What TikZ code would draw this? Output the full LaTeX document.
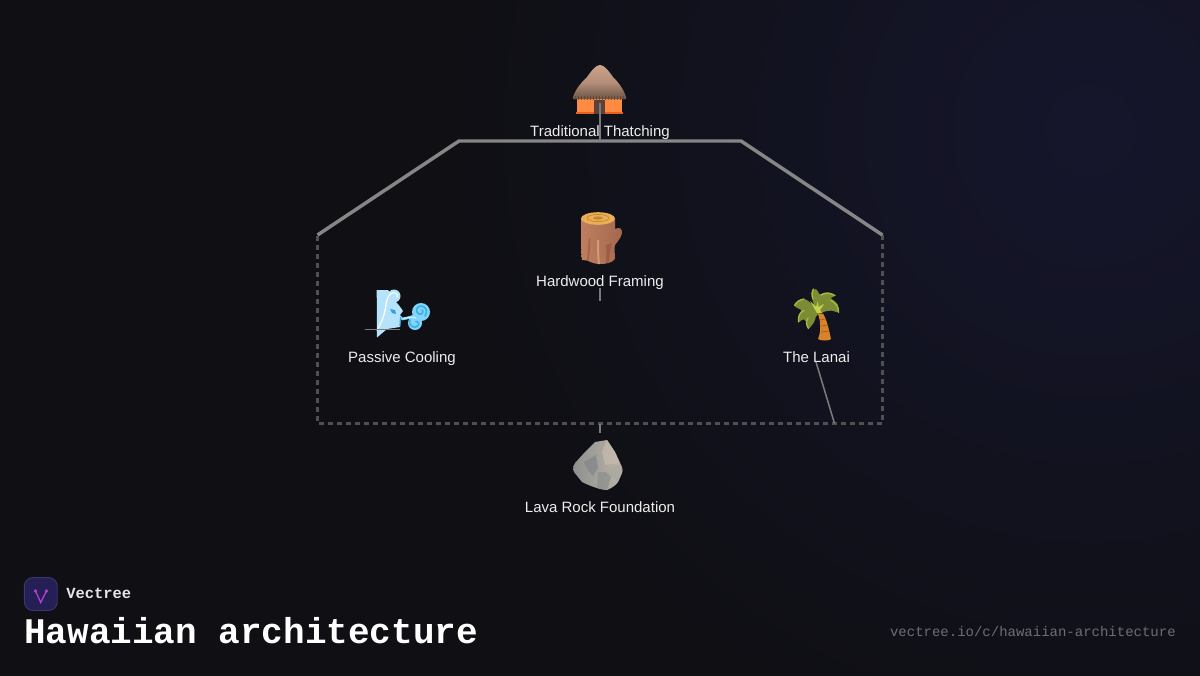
\documentclass[tikz,border=0pt]{standalone}
\usepackage{fontspec}
\setmainfont{Liberation Sans}
\newfontfamily\monof{Liberation Mono}
\definecolor{bgbase}{HTML}{0F0F14}
\definecolor{bgglow}{HTML}{15162C}
\definecolor{solidc}{HTML}{868686}
\definecolor{dashc}{HTML}{505052}
\definecolor{linkc}{HTML}{7A7A7C}
\definecolor{urlc}{HTML}{6E6E72}
\definecolor{skyA}{HTML}{B5E3FB}
\definecolor{skyB}{HTML}{81D4FA}
\definecolor{skyC}{HTML}{29A3E0}
\definecolor{skyL}{HTML}{D6F0FD}
\definecolor{wallO}{HTML}{FF8A42}
\definecolor{wallD}{HTML}{E8601C}
\definecolor{roofT}{HTML}{CDA38C}
\definecolor{roofM}{HTML}{B58F7A}
\definecolor{roofB}{HTML}{6E5547}
\definecolor{doorc}{HTML}{5D4037}
\definecolor{logL}{HTML}{BE7F5F}
\definecolor{logR}{HTML}{A5684E}
\definecolor{logS}{HTML}{8F5340}
\definecolor{logH}{HTML}{D09A7C}
\definecolor{logT}{HTML}{EBAE55}
\definecolor{logI}{HTML}{C4852F}
\definecolor{trunk}{HTML}{D9822B}
\definecolor{trunkD}{HTML}{A8601C}
\definecolor{leafD}{HTML}{7C8C35}
\definecolor{leafL}{HTML}{A6BA3E}
\definecolor{leafH}{HTML}{C5D24A}
\definecolor{rockL}{HTML}{8E908E}
\definecolor{rockR}{HTML}{BDB4A8}
\definecolor{rockS}{HTML}{80868A}
\definecolor{rockH}{HTML}{C6BCAE}
\definecolor{rockM}{HTML}{ABA9A1}
\definecolor{rockD}{HTML}{858B8C}
\definecolor{logoF}{HTML}{241F54}
\definecolor{logoD}{HTML}{3A3670}
\definecolor{logoV}{HTML}{B03ED0}
\tikzset{
 lbl/.style={font=\fontsize{11.25pt}{13pt}\selectfont,text=white!93!black,inner sep=0pt,anchor=base},
 roofedge/.style={draw=solidc,line width=2.6pt,line join=round},
 wall/.style={draw=dashc,line width=2.25pt,dash pattern=on 3.7pt off 3.05pt},
 link/.style={draw=linkc,line width=1.15pt},
}
\begin{document}
\begin{tikzpicture}[x=0.75pt,y=-0.75pt]
\useasboundingbox (0,0) rectangle (1200,675);
\fill[bgbase] (-5,-5) rectangle (1205,680);
\begin{scope}
\clip (-5,-5) rectangle (1205,680);
\shade[inner color=bgglow,outer color=bgbase] (1090,130) circle (640);
\end{scope}

% anchors of the structure
\coordinate (bl) at (317.5,423.5);
\coordinate (br) at (882.5,423.5);
\coordinate (el) at (317.5,235);
\coordinate (er) at (882.5,235);
\coordinate (rl) at (459,141);
\coordinate (rr) at (741,141);
\coordinate (rm) at (600,141);
\coordinate (bm) at (600,423.5);
\coordinate (bp) at (834.5,423.5);
\coordinate (hutend) at (600,103);
\coordinate (hwstart) at (600,288);
\coordinate (hwend) at (600,301);
\coordinate (lavaend) at (600,433);
\coordinate (coolA) at (365,329.5);
\coordinate (coolB) at (400,329.5);
\coordinate (lanaistart) at (816,362);

% hut emoji
\begin{scope}
\fill[wallO] (577,99) rectangle (622,113.5);
\fill[wallD] (576,111.5) rectangle (623,113.5);
\shade[top color=roofT,bottom color=roofB,middle color=roofM] (573,97) .. controls (576,88) and (582,82) .. (587,77) .. controls (592,70) and (596,65) .. (600,65) .. controls (604,65) and (608,70) .. (613,77) .. controls (618,82) and (623,88) .. (626,97) -- (626,99) -- (573,99) -- cycle;
\foreach \tx in {575,578,...,625}{\draw[roofB!70!black,line width=0.4pt,opacity=0.6] (\tx,95.5) -- (\tx,99.8);}
\fill[doorc] (594,100) rectangle (604.5,113.5);
\end{scope}

% log emoji
\begin{scope}
\shade[left color=logL,right color=logR] (581,219) .. controls (581,240) and (581,252) .. (582,260) -- (587,260.5) .. controls (592,263) and (596,264) .. (600,264) .. controls (606,264) and (612,263) .. (615,259) .. controls (615,254) and (614,248) .. (615,245) .. controls (618,241) and (621,238) .. (622,233) .. controls (622,229) and (620,227) .. (618,228) -- (615,229) -- (615,219) -- cycle;
\fill[logS,opacity=0.6] (589,238) .. controls (588,246) and (588,254) .. (587,260) -- (588.5,260.5) .. controls (590,252) and (590,245) .. (590,238) -- cycle;
\fill[logH] (597,240) .. controls (597,248) and (597,256) .. (598,264) -- (600,264) .. controls (599,256) and (599,248) .. (599,240) -- cycle;
\fill[logS,opacity=0.6] (606,245) .. controls (607,252) and (606,258) .. (606,263) -- (609,262.5) .. controls (609,256) and (610,250) .. (612,243) -- cycle;
\fill[logT] (598,218.5) ellipse (17 and 6.3);
\draw[logI,line width=0.5pt] (598,218) ellipse (11 and 3.6);
\fill[logI] (598,218) ellipse (5 and 1.6);
\end{scope}

% wind emoji
\begin{scope}
\fill[skyA] (376.7,290) -- (388,290) -- (396,302) .. controls (399,305) and (401,308) .. (403,311) -- (400,315) -- (403,318) -- (400,321) -- (400,327) -- (387,329) -- (377,337.5) -- cycle;
\fill[skyA] (394,296) circle (6.5);
\draw[white,line width=0.9pt,line cap=round] (397,297) .. controls (398.5,294) and (395,292) .. (392,293) .. controls (388,295) and (387,300) .. (386,304) .. controls (385,314) and (382,322) .. (377,330);
\fill[skyC] (390,309) -- (395,310) -- (396,314) -- (392,313) -- cycle;
\draw[skyC,line width=0.9pt] (400.5,317) -- (400,326);
\draw[skyB,line width=2pt] (402,319) .. controls (408,318) and (412,317) .. (416,315);
\fill[skyB] (421,312) circle (9);
\fill[skyB] (415,323) circle (7);
\draw[skyC!75!skyB,line width=1.2pt,line cap=round] (425,316) .. controls (429,311) and (425,306) .. (421,306) .. controls (416,306) and (415,312) .. (419,314) .. controls (422,315) and (424,312) .. (422,310);
\draw[skyC!75!skyB,line width=1.2pt,line cap=round] (410,320) .. controls (408,324) and (412,328) .. (416,327) .. controls (420,326) and (419,321) .. (416,321.5);
\draw[skyL,line width=0.8pt] (403,318.5) .. controls (408,317.5) and (413,316.5) .. (416,318);
\end{scope}

% palm emoji
\begin{scope}
\fill[trunk] (818,314) -- (823,313.5) .. controls (827,320) and (829,330) .. (831,339) .. controls (830,341) and (820,341) .. (818,339) .. controls (821,332) and (821,322) .. (818,314) -- cycle;
\draw[trunkD,line width=0.6pt] (820,320) -- (825.5,319) (821,326) -- (827.5,325) (821,332) -- (829,331);
\fill[leafD,rounded corners=1.5pt] (815,309) -- (811.5,296) -- (811,292) -- (814,288.5) -- (818,290) -- (819,295) -- (825,292) -- (832,293) -- (835.5,296) -- (830,298) -- (836,302) -- (839,307) -- (838,313) -- (833,310.5) -- (826,311) -- (821,313) -- (816,315) -- (815,321) -- (812,325) -- (809,329) -- (806,325) -- (806,319.5) -- (802,319) -- (799,323) -- (798,320) -- (798.5,315) -- (802,310) -- (797,308) -- (794,306) -- (798,300.5) -- (804,298.5) -- (810,302) -- cycle;
\draw[leafL,line width=1pt,line cap=round] (794.5,305.5) .. controls (796,302) and (800,299.5) .. (804,299) (798.5,322) .. controls (798,316) and (800,312) .. (804,310.5) (808.5,328.5) .. controls (806,325) and (806,321) .. (808,318) (813.5,289) .. controls (811.5,292) and (812,296) .. (813,299) (835,295.5) .. controls (831,293) and (826,292.5) .. (821,295) (838.5,312.5) .. controls (839,307) and (836,303) .. (831,300.5);
\fill[leafH] (810,301) -- (816,307) -- (818,301) -- (818.5,307) -- (824,304) -- (820,310) -- (822,313) -- (817,313) -- cycle;
\end{scope}

% rock emoji
\begin{scope}
\path[left color=rockL,right color=rockR] (607,440) -- (595,442) -- (585,452) -- (575,463) .. controls (573,466) and (573,470) .. (574,472) -- (582,482) .. controls (588,485) and (600,490) .. (607,490) .. controls (612,488) and (616,485) .. (618,482) -- (622,473) .. controls (623,470) and (622,466) .. (620,463) -- (615,452) -- cycle;
\fill[rockS,opacity=0.7] (584,462) -- (596,455) -- (598,468) -- (593,476) .. controls (589,472) and (586,467) .. (584,462) -- cycle;
\fill[rockH,opacity=0.7] (607,440) -- (602,452) -- (605,465) -- (620,463) -- (615,452) -- cycle;
\fill[rockM,opacity=0.7] (606,472) -- (620,464) .. controls (622,466) and (623,470) .. (622,473) -- (618,482) -- (611,476) -- cycle;
\fill[rockD,opacity=0.6] (598,472) -- (606,472) -- (611,477) -- (607,490) .. controls (603,490) and (600,488) .. (597,488) -- cycle;
\end{scope}

% structure
\draw[wall] (er) -- (br) -- (bl) -- (el);
\draw[roofedge] (el) -- (rl) -- (rr) -- (er);

% labels
\node[lbl] (thatch) at (600,136.2) {Traditional Thatching};
\node[lbl] (frame) at (600,286.2) {Hardwood Framing};
\node[lbl] (cool) at (402,362.2) {Passive Cooling};
\node[lbl] (lanai) at (816.5,362.2) {The Lanai};
\node[lbl] (lava) at (600,512.2) {Lava Rock Foundation};

% connectors
\draw[link] (hutend) -- (rm);
\draw[link] (hwstart) -- (hwend);
\draw[link] (bm) -- (lavaend);
\draw[link] (coolA) -- (coolB);
\draw[link] (lanaistart) -- (bp);

% branding
\node[draw=logoD,fill=logoF,rounded corners=6.5pt,minimum width=24.7pt,minimum height=24.7pt,inner sep=0pt,line width=0.7pt] (logo) at (40.8,594) {};
\coordinate (vb) at (40.7,602.5);
\coordinate (va) at (35.5,591);
\coordinate (vc) at (46.5,591);
\draw[logoV,line width=1pt] (va) -- (vb) -- (vc);
\fill[logoV] (va) circle (1.9) (vc) circle (1.9);
\node[font=\monof\bfseries\fontsize{11.6pt}{14pt}\selectfont,text=white!90!black,inner sep=0pt,anchor=west] (brand) at (66,593.3) {Vectree};
\node[font=\monof\bfseries\fontsize{27pt}{30pt}\selectfont,text=white,inner sep=0pt,anchor=west] (title) at (24,630.7) {Hawaiian architecture};
\node[font=\monof\fontsize{10.5pt}{12pt}\selectfont,text=urlc,inner sep=0pt,anchor=east] (url) at (1176,631.5) {vectree.io/c/hawaiian-architecture};
\end{tikzpicture}
\end{document}
